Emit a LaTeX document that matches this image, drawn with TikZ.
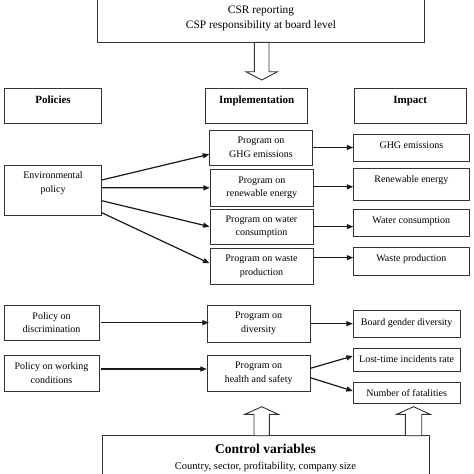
\documentclass[tikz,border=0pt]{standalone}
\usepackage{fontspec}
\setmainfont{Liberation Serif}
\usetikzlibrary{arrows.meta,calc}
\begin{document}
\begin{tikzpicture}[x=1pt,y=-1pt,
  box/.style={draw=black!80,line width=0.9pt,inner sep=0pt,align=center,font=\fontsize{10}{13.7}\selectfont},
  txt/.style={inner sep=0pt,align=center,font=\fontsize{10}{13.7}\selectfont},
  hdr/.style={inner sep=0pt,anchor=base,font=\fontsize{11}{13}\selectfont\bfseries},
  con/.style={draw=black!90,line width=1.2pt,-{Triangle[length=6.5pt,width=5pt]}},
  hollow/.style={draw=black!80,line width=0.9pt,fill=white,line join=miter}]
\useasboundingbox (0,0) rectangle (474,474);
% top box
\node[box,minimum width=326.6,minimum height=52.3] (top) at (261,16.15) {};
\node[inner sep=0pt,anchor=base,font=\fontsize{11.4}{14}\selectfont] (t1) at (261,13.3) {CSR reporting};
\node[inner sep=0pt,anchor=base,font=\fontsize{11.4}{14}\selectfont] (t2) at (261,28.3) {CSP responsibility at board level};
% headers
\node[box,minimum width=96.6,minimum height=35] (pol) at (53,105.8) {};
\node[hdr] (polt) at (53,103.5) {Policies};
\node[box,minimum width=102,minimum height=35] (impl) at (256.7,105.8) {};
\node[hdr] (implt) at (256.7,103.5) {Implementation};
\node[box,minimum width=111.7,minimum height=35] (imp) at (410.15,105.8) {};
\node[hdr] (impt) at (410.15,103.5) {Impact};
% down hollow arrow
\draw[hollow] (254.4,42.3) -- (254.4,71.7) -- (245.9,71.7) -- (261.7,80) -- (277.5,71.7) -- (269,71.7) -- (269,42.3) -- cycle;
% environmental policy
\node[box,minimum width=96.6,minimum height=49.6] (env) at (53,190.5) {};
\node[txt] (envt) at (53,183.2) {Environmental\\policy};
% programs
\node[box,minimum width=102.6,minimum height=35] (pg) at (261,147.5) {Program on\\GHG emissions};
\node[box,minimum width=103,minimum height=37.7] (pr) at (261.8,187.85) {Program on\\renewable energy};
\node[box,minimum width=103,minimum height=34.7] (pw) at (261.5,226.65) {Program on water\\consumption};
\node[box,minimum width=103,minimum height=35.7] (pwa) at (261.5,266.15) {Program on waste\\production};
% impacts
\node[box,minimum width=115.3,minimum height=27.4] (ig) at (411.35,148) {};
\node[txt,anchor=base] (igt) at (411.35,148.5) {GHG emissions};
\node[box,minimum width=115.3,minimum height=31.3] (ir) at (411.35,184.35) {};
\node[txt,anchor=base] (irt) at (411.35,182.5) {Renewable energy};
\node[box,minimum width=115.3,minimum height=27.7] (iw) at (411.35,222.85) {};
\node[txt,anchor=base] (iwt) at (411.35,223.5) {Water consumption};
\node[box,minimum width=115.3,minimum height=27.3] (iwa) at (411.35,261.35) {};
\node[txt,anchor=base] (iwat) at (411.35,261.8) {Waste production};
% social
\node[box,minimum width=95,minimum height=34.7] (disc) at (51.5,322.65) {Policy on\\discrimination};
\node[box,minimum width=102.7,minimum height=36.7] (div) at (258.65,323.65) {Program on\\diversity};
\node[box,minimum width=106.7,minimum height=27.3] (board) at (406.65,323.65) {};
\node[txt,anchor=base] (boardt) at (406.65,325.2) {Board gender diversity};
\node[box,minimum width=95,minimum height=36] (work) at (51.5,373) {Policy on working\\conditions};
\node[box,minimum width=102.7,minimum height=36] (hs) at (258.65,373) {Program on\\health and safety};
\node[box,minimum width=106.7,minimum height=22.7] (lost) at (406.65,359.65) {};
\node[txt,anchor=base] (lostt) at (406.65,362.8) {Lost-time incidents rate};
\node[box,minimum width=106.7,minimum height=20.6] (fat) at (406.65,393) {};
\node[txt,anchor=base] (fatt) at (406.65,396.2) {Number of fatalities};
% control box
\node[box,minimum width=327,minimum height=42.6] (ctrl) at (265.5,457) {};
\node[inner sep=0pt,anchor=base,font=\fontsize{13.5}{16}\selectfont\bfseries] (ctt) at (265.5,453) {Control variables};
\node[inner sep=0pt,anchor=base,font=\fontsize{10.5}{13}\selectfont] (cts) at (265.5,469.2) {Country, sector, profitability, company size};
% up hollow arrows
\draw[hollow] (254,435.7) -- (254,414.3) -- (245,414.3) -- (261.7,406.7) -- (278.3,414.3) -- (269.3,414.3) -- (269.3,435.7) -- cycle;
\draw[hollow] (405.3,435.7) -- (405.3,414.3) -- (396.8,414.3) -- (413.5,406.7) -- (430.2,414.3) -- (421.7,414.3) -- (421.7,435.7) -- cycle;
% connectors env -> programs
\draw[con] ([yshift=10.5pt]env.east) -- ([yshift=-6.8pt]pg.west);
\draw[con] ([yshift=2.8pt]env.east) -- (pr.west);
\draw[con] ([yshift=-10.2pt]env.east) -- (pw.west);
\draw[con] ([yshift=-22.2pt]env.east) -- ([yshift=2.85pt]pwa.west);
% programs -> impacts
\draw[con] (pg.east) -- (pg.east -| ig.west);
\draw[con] ([yshift=1pt]pr.east) -- ([yshift=1pt]pr.east -| ir.west);
\draw[con] (pw.east) -- (pw.east -| iw.west);
\draw[con] ([yshift=8.5pt]pwa.east) -- ([yshift=8.5pt]pwa.east -| iwa.west);
% social connectors
\draw[con] ([xshift=2pt]disc.east) -- ([xshift=2pt]disc.east -| div.west);
\draw[con] (div.east) -- (div.east -| board.west);
\draw[con] ([xshift=2pt,yshift=4pt]work.east) -- ([yshift=4pt]work.east -| hs.west);
\draw[con] ([yshift=4.7pt]hs.east) -- ([yshift=3.65pt]lost.west);
\draw[con] ([yshift=-4.7pt]hs.east) -- ([yshift=2pt]fat.west);
\end{tikzpicture}
\end{document}
